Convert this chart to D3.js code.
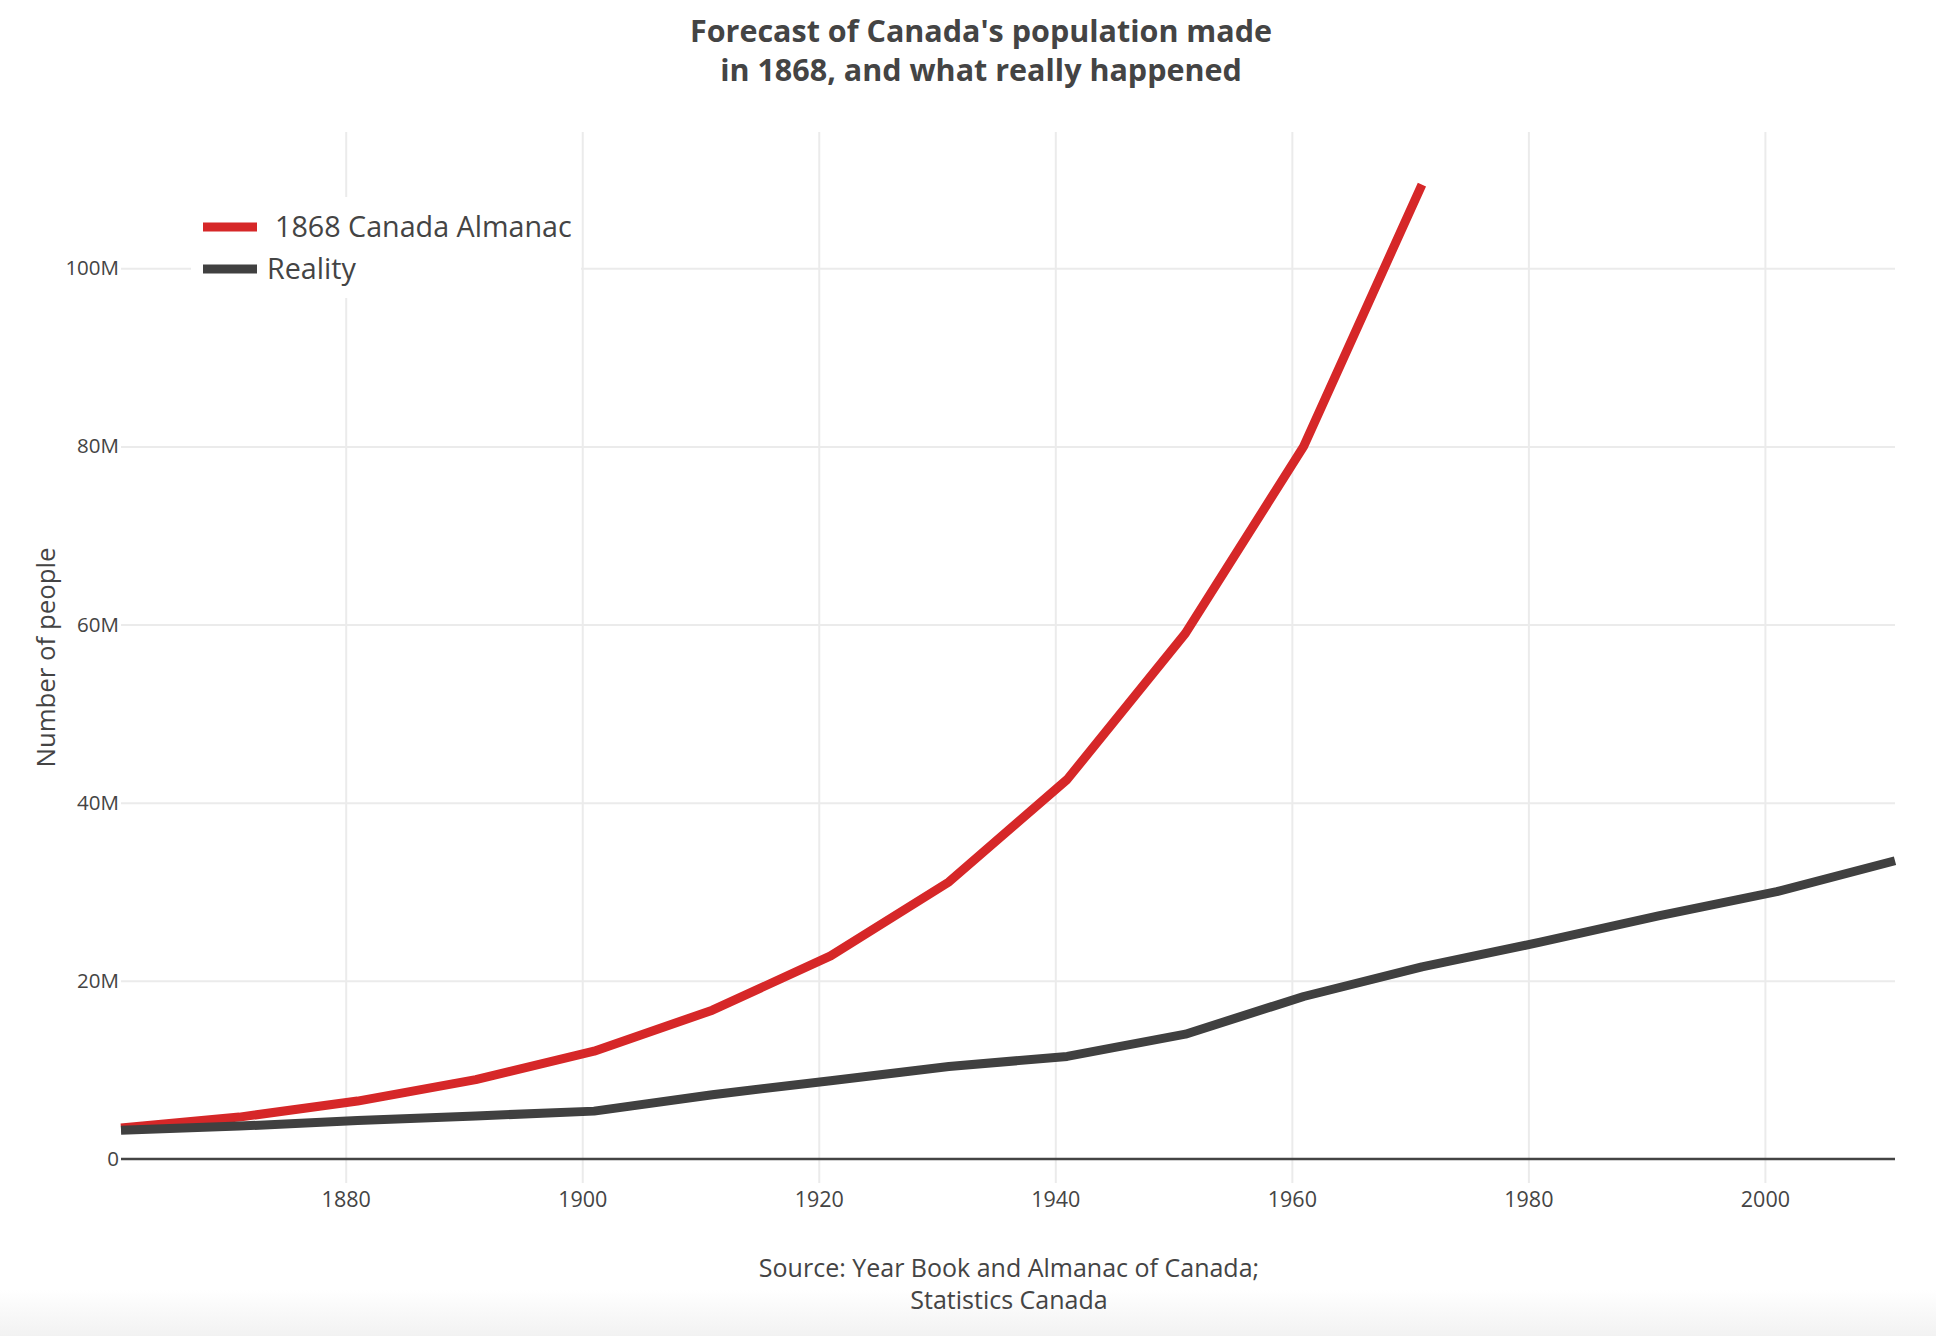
<!DOCTYPE html>
<html>
<head>
<meta charset="utf-8">
<script src="https://cdn.jsdelivr.net/npm/d3@7"></script>
<style>
  body { margin: 0; background: #fff; }
  text { font-family: "Open Sans", "Noto Sans", sans-serif; fill: #444; }
</style>
</head>
<body>
<svg id="chart" width="1936" height="1336"></svg>
<script>
// census years
var almanacYears = [1861, 1871, 1881, 1891, 1901, 1911, 1921, 1931, 1941, 1951, 1961, 1971];
var realityYears = [1861, 1871, 1881, 1891, 1901, 1911, 1921, 1931, 1941, 1951, 1961, 1971, 1981, 1991, 2001, 2011];

// population, millions
var almanacValues = [3.47, 4.7, 6.5, 8.9, 12.1, 16.7, 22.8, 31.1, 42.6, 59.0, 80.0, 109.4];
var realityValues = [3.23, 3.69, 4.32, 4.83, 5.37, 7.21, 8.79, 10.38, 11.51, 14.01, 18.24, 21.57, 24.34, 27.30, 30.01, 33.48];

var xTicks = [1880, 1900, 1920, 1940, 1960, 1980, 2000];
var yTicks = [0, 20, 40, 60, 80, 100];

var seriesNames = ["1868 Canada Almanac", "Reality"];
var seriesColors = ["#d62728", "#404040"];

(function () {
var svg = d3.select("#chart");

// plot box
var pLeft = 121, pRight = 1895, pTop = 132, pBottom = 1183;
// legend box
var lgX = 191, lgY = 197, lgW = 390, lgH = 101;

var x = d3.scaleLinear().domain([1861, 2011]).range([pLeft, pRight]);
var y = d3.scaleLinear().domain([-2.7, 115.3]).range([pBottom, pTop]);

// faint band at the page bottom
var grad = svg.append("defs").append("linearGradient")
    .attr("id", "fade").attr("x1", 0).attr("y1", 0).attr("x2", 0).attr("y2", 1);
grad.append("stop").attr("offset", "0%").attr("stop-color", "#ffffff");
grad.append("stop").attr("offset", "100%").attr("stop-color", "#f2f2f2");
svg.append("rect").attr("x", 0).attr("y", 1290).attr("width", 1936).attr("height", 46)
    .attr("fill", "url(#fade)");

// grid
var yGrid = svg.append("g").attr("transform", "translate(" + pLeft + ",0)")
    .call(d3.axisLeft(y).tickValues(yTicks.filter(function (d) { return d > 0; }))
        .tickSize(-(pRight - pLeft)).tickFormat(""));
yGrid.select(".domain").remove();
yGrid.selectAll("line").attr("stroke", "#ebebeb").attr("stroke-width", 2);

// legend background hides the grid behind it, but not the 1900 line
svg.append("rect")
    .attr("x", lgX).attr("y", lgY).attr("width", lgW).attr("height", lgH)
    .attr("fill", "#fff");

var xGrid = svg.append("g").attr("transform", "translate(0," + pBottom + ")")
    .call(d3.axisBottom(x).tickValues(xTicks).tickSize(-(pBottom - pTop)).tickFormat(""));
xGrid.select(".domain").remove();
xGrid.selectAll("line").attr("stroke", "#ebebeb").attr("stroke-width", 2);
// the 1880 line passes behind the legend: split it round the box
var t1880 = xGrid.selectAll(".tick").filter(function (d) { return d === 1880; });
t1880.select("line").attr("y2", -(pBottom - (lgY + lgH)));
t1880.append("line")
    .attr("y1", -(pBottom - lgY)).attr("y2", -(pBottom - pTop))
    .attr("stroke", "#ebebeb").attr("stroke-width", 2);

// zero line
svg.append("line")
    .attr("x1", pLeft).attr("x2", pRight)
    .attr("y1", y(0)).attr("y2", y(0))
    .attr("stroke", "#444").attr("stroke-width", 2.5);

// tick labels
var xAxis = svg.append("g").attr("transform", "translate(0,1199)")
    .call(d3.axisBottom(x).tickValues(xTicks).tickSize(0).tickPadding(0).tickFormat(d3.format("d")));
xAxis.select(".domain").remove();
xAxis.selectAll("text").attr("dy", "0.35em").style("font-size", "21.5px")
    .style("font-family", "'Open Sans', sans-serif").attr("fill", "#444");

var yAxis = svg.append("g").attr("transform", "translate(119,0)")
    .call(d3.axisLeft(y).tickValues(yTicks).tickSize(0).tickPadding(0)
        .tickFormat(function (d) { return d === 0 ? "0" : d + "M"; }));
yAxis.select(".domain").remove();
yAxis.selectAll("text").style("font-size", "20.5px")
    .style("font-family", "'Open Sans', sans-serif").attr("fill", "#444");

// lines
var line = d3.line()
    .x(function (d) { return x(d[0]); })
    .y(function (d) { return y(d[1]); });

var series = [
    d3.zip(almanacYears, almanacValues),
    d3.zip(realityYears, realityValues)
];

svg.append("g").selectAll("path")
    .data(series)
    .enter()
    .append("path")
    .attr("d", line)
    .attr("fill", "none")
    .attr("stroke", function (d, i) { return seriesColors[i]; })
    .attr("stroke-width", 9)
    .attr("stroke-linejoin", "round");

// legend
var items = svg.append("g").selectAll(".item")
    .data(seriesNames)
    .enter()
    .append("g")
    .attr("class", "item")
    .attr("transform", function (d, i) { return "translate(0," + (227 + i * 42) + ")"; });

items.append("line")
    .attr("x1", 203).attr("x2", 257)
    .attr("stroke", function (d, i) { return seriesColors[i]; })
    .attr("stroke-width", 9);

items.append("text")
    .attr("x", function (d, i) { return i === 0 ? 275 : 267; })
    .attr("dy", "0.35em")
    .style("font-size", "28.7px")
    .text(function (d) { return d; });

// titles
var title = svg.append("text")
    .attr("text-anchor", "middle")
    .style("font-size", "30.5px")
    .style("font-weight", "bold");
title.append("tspan").attr("x", 981).attr("y", 31).attr("dy", "0.35em")
    .text("Forecast of Canada's population made");
title.append("tspan").attr("x", 981).attr("y", 70).attr("dy", "0.35em")
    .text("in 1868, and what really happened");

svg.append("text")
    .attr("transform", "translate(46," + ((pTop + pBottom) / 2) + ") rotate(-90)")
    .attr("text-anchor", "middle")
    .attr("dy", "0.35em")
    .style("font-size", "25.8px")
    .text("Number of people");

var source = svg.append("text")
    .attr("text-anchor", "middle")
    .style("font-size", "25px");
source.append("tspan").attr("x", 1009).attr("y", 1268).attr("dy", "0.35em")
    .text("Source: Year Book and Almanac of Canada;");
source.append("tspan").attr("x", 1009).attr("y", 1300).attr("dy", "0.35em")
    .text("Statistics Canada");
})();
</script>
</body>
</html>
